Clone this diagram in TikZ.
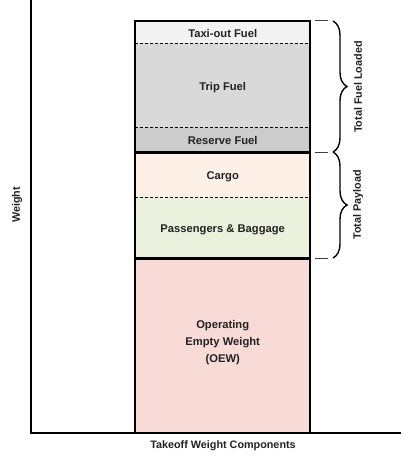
\documentclass[tikz,border=0pt]{standalone}
\usepackage{fontspec}
\setmainfont{Liberation Sans}
\usetikzlibrary{decorations.pathreplacing}
\definecolor{taxic}{HTML}{F2F2F2}
\definecolor{tripc}{HTML}{D9D9D9}
\definecolor{resc}{HTML}{CCCCCC}
\definecolor{cargoc}{HTML}{FDF1E7}
\definecolor{paxc}{HTML}{EAF1DD}
\definecolor{oewc}{HTML}{F8DAD7}
\definecolor{txt}{HTML}{222222}
\begin{document}
\begin{tikzpicture}[x=1pt,y=-1pt,
  seg/.style={draw=none, inner sep=0pt, minimum width=175pt, anchor=north west,
    font=\fontsize{11.2}{17}\selectfont\bfseries, text=txt, align=center,
    text height=12pt, text depth=2pt},
  divsolid/.style={line width=2.4pt},
  divdash/.style={line width=1.7pt, dash pattern=on 3pt off 2pt},
  tick/.style={line width=1pt, black!75},
  bracestyle/.style={line width=1.4pt, decorate, decoration={brace, amplitude=14pt}},
  axlabel/.style={font=\fontsize{10.8}{12}\selectfont\bfseries, text=txt}]
\useasboundingbox (0,0) rectangle (401,460);
% segments
\node[seg, fill=taxic, minimum height=22pt] (taxi) at (135,21) {Taxi-out Fuel};
\node[seg, fill=tripc, minimum height=84pt] (trip) at (135,43) {Trip Fuel};
\node[seg, fill=resc, minimum height=25pt] (res) at (135,127) {Reserve Fuel};
\node[seg, fill=cargoc, minimum height=45pt] (cargo) at (135,152) {Cargo};
\node[seg, fill=paxc, minimum height=61pt] (pax) at (135,197) {Passengers \& Baggage};
\node[seg, fill=oewc, minimum height=175pt, text height=0pt, text depth=0pt,
  label={[font=\fontsize{11.2}{17}\selectfont\bfseries, text=txt, align=center, yshift=3pt]center:Operating\\Empty Weight\\(OEW)}] (oew) at (135,258) {};
% dividers
\draw[divdash] (taxi.south west) -- (taxi.south east);
\draw[divdash] (trip.south west) -- (trip.south east);
\draw[divsolid] (res.south west) -- (res.south east);
\draw[divdash] (cargo.south west) -- (cargo.south east);
\draw[divsolid] (pax.south west) -- (pax.south east);
% outline
\draw[line width=1.9pt] (oew.south west) -- (taxi.north west) -- (taxi.north east) -- (oew.south east);
% axes
\coordinate (ytop) at (31,0);
\coordinate (orig) at (31,433);
\coordinate (xend) at (401,433);
\draw[line width=2.5pt] (ytop) -- (orig) -- (xend);
\node[axlabel] (xlab) at (223,446) {Takeoff Weight Components};
\node[axlabel, rotate=90] (ylab) at (17,205) {Weight};
% ticks
\coordinate (t1a) at (315,21); \coordinate (t1b) at (328,21);
\coordinate (t2a) at (315,152); \coordinate (t2b) at (328,152);
\coordinate (t3a) at (315,258); \coordinate (t3b) at (328,258);
\draw[tick] (t1a) -- (t1b);
\draw[tick] (t2a) -- (t2b);
\draw[tick] (t3a) -- (t3b);
% braces
\coordinate (b1a) at (333,21); \coordinate (b1b) at (333,152);
\coordinate (b2a) at (333,152); \coordinate (b2b) at (333,258);
\draw[bracestyle] (b1a) -- (b1b);
\draw[bracestyle] (b2a) -- (b2b);
\node[axlabel, rotate=90] (fuel) at (358,87) {Total Fuel Loaded};
\node[axlabel, rotate=90] (payload) at (358,205) {Total Payload};
\end{tikzpicture}
\end{document}
